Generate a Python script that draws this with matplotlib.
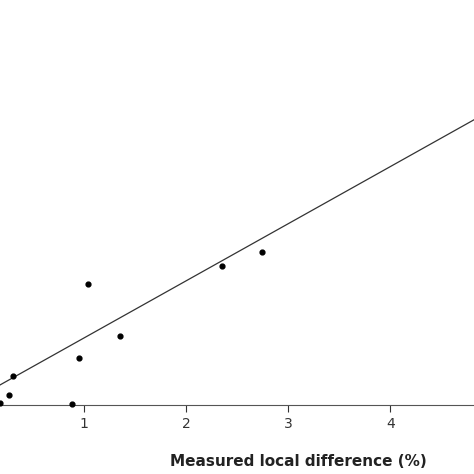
import numpy as np
import matplotlib.pyplot as plt

# measured vs predicted values
measured = [0.18, 0.26, 0.30, 0.88, 0.95, 1.04, 1.35, 2.35, 2.74]
predicted = [0.02, 0.10, 0.29, 0.01, 0.47, 1.21, 0.69, 1.39, 1.53]
fit_slope = 0.571
fit_intercept = 0.10
xticks = [1, 2, 3, 4]

fig = plt.figure(figsize=(4.74, 4.74), dpi=100)
ax = fig.add_axes([0, 69 / 474, 1, 405 / 474])
ax.set_xlim(0.176, 4.82)
ax.set_ylim(0, 4.05)

xs = np.array(ax.get_xlim())
ax.plot(xs, fit_slope * xs + fit_intercept, color="#333333", lw=0.9)
ax.scatter(measured, predicted, s=12, color="black", zorder=3, clip_on=False)

for s in ["top", "right", "left"]:
    ax.spines[s].set_visible(False)
ax.spines["bottom"].set_color("#555555")
ax.set_yticks([])
ax.set_xticks(xticks)
ax.tick_params(axis="x", direction="out", length=5, labelsize=10, colors="#333333")
ax.set_xlabel("Measured local difference (%)", fontsize=11, fontweight="bold",
              color="#222222", labelpad=14)
ax.xaxis.set_label_coords(0.63, -0.12)

fig.savefig("out.png", dpi=100)
